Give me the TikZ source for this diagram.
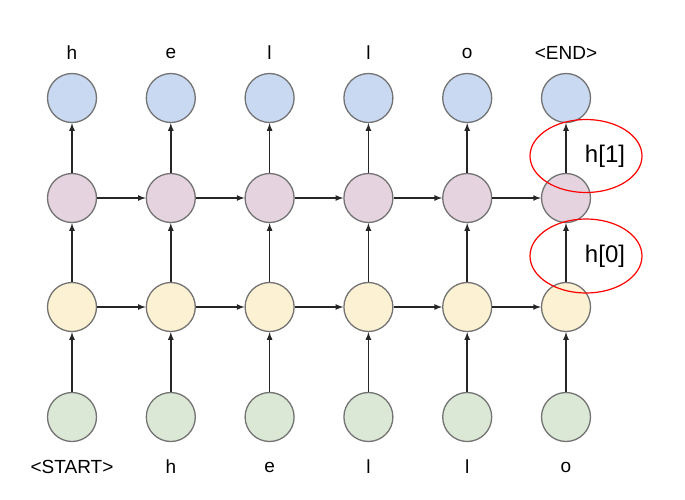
\documentclass[tikz,border=0pt]{standalone}
\usepackage{fontspec}
\setmainfont{Liberation Sans}
\usetikzlibrary{shapes.geometric}
\begin{document}
\begin{tikzpicture}[x=1pt,y=-1pt,
  c/.style={circle,draw=black!55,line width=1.3pt,minimum size=49pt,inner sep=0pt},
  ar/.style={-latex,line width=1.6pt,black!85},
  lb/.style={font=\fontsize{19}{22}\selectfont},
  hl/.style={font=\fontsize{24}{28}\selectfont}]
\useasboundingbox (0,0) rectangle (685,499);
\definecolor{cb}{HTML}{C9D9F2}
\definecolor{cp}{HTML}{E5D3DF}
\definecolor{cy}{HTML}{FCF1D2}
\definecolor{cg}{HTML}{DCE8D6}
\foreach \i/\t/\b in {0/h/{<START>},1/e/h,2/l/e,3/l/l,4/o/l,5/{<END>}/o}{
  \pgfmathsetmacro\xx{72+98.8*\i}
  \node[c,fill=cb] (b\i) at (\xx,98) {};
  \node[c,fill=cp] (p\i) at (\xx,198) {};
  \node[c,fill=cy] (y\i) at (\xx,307) {};
  \node[c,fill=cg] (g\i) at (\xx,417) {};
  \node[lb] (t\i) at (\xx,53) {\t};
  \node[lb] (s\i) at (\xx,467) {\b};
  \draw[ar] (g\i) -- (y\i);
  \draw[ar] (y\i) -- (p\i);
  \draw[ar] (p\i) -- (b\i);
}
\foreach \i [count=\j] in {0,...,4}{
  \draw[ar] (p\i) -- (p\j);
  \draw[ar] (y\i) -- (y\j);
}
\node[draw=red,line width=1.2pt,ellipse,minimum width=112pt,minimum height=73pt,inner sep=0pt] (e1) at (586,156) {};
\node[draw=red,line width=1.2pt,ellipse,minimum width=112pt,minimum height=74pt,inner sep=0pt] (e2) at (586,256) {};
\node[hl] (h1) at (605,156) {h[1]};
\node[hl] (h0) at (605,256) {h[0]};
\end{tikzpicture}
\end{document}
